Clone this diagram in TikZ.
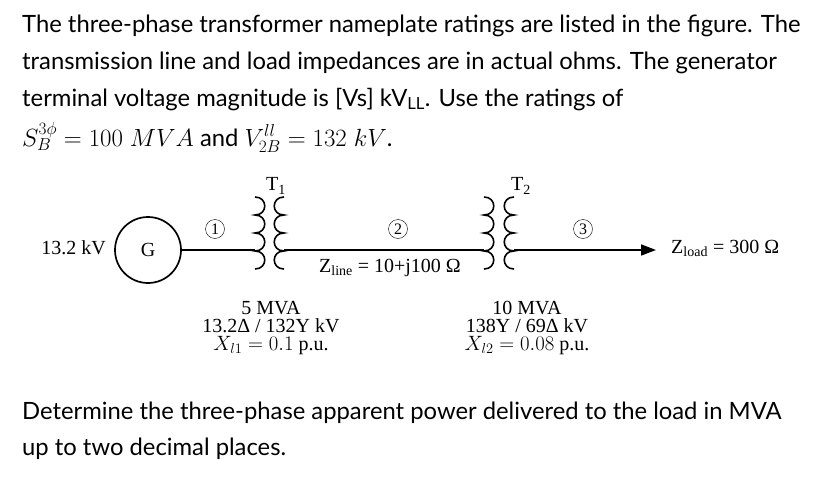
\documentclass[tikz,border=0pt]{standalone}
\usepackage{fontspec}
\setmainfont{Lato}
\newfontfamily\tms{Liberation Serif}
\usetikzlibrary{arrows.meta}
\begin{document}
\begin{tikzpicture}[x=1pt,y=-1pt,
  para/.style={anchor=base west,inner sep=0,font=\fontsize{23.8}{28}\selectfont},
  dia/.style={inner sep=0,font=\tms\fontsize{20}{22}\selectfont},
  num/.style={circle,draw,thin,inner sep=0,minimum size=19pt,font=\tms\fontsize{16}{17}\selectfont},
  wire/.style={line width=1.7pt}]
\useasboundingbox (0,0) rectangle (828,479);
\node[para] (p1) at (22,32) {The three-phase transformer nameplate ratings are listed in the figure. The};
\node[para] (p2) at (22,69) {transmission line and load impedances are in actual ohms. The generator};
\node[para] (p3) at (22,106) {terminal voltage magnitude is [Vs] kV\textsubscript{LL}. Use the ratings of};
\node[para] (p4) at (22,146) {$S_B^{3\phi}=100\;MVA$ and $V_{2B}^{ll}=132\;kV$.};
\node[para] (p5) at (22,419) {Determine the three-phase apparent power delivered to the load in MVA};
\node[para] (p6) at (22,455) {up to two decimal places.};
% generator
\node[circle,draw,line width=1.7pt,minimum size=66pt,dia] (G) at (148,250) {G};
\node[dia,anchor=east] (vg) at (106,248) {13.2 kV};
% coils
\foreach \cx/\d/\nm in {255/1/a,284/-1/b,484/1/c,514/-1/d}{
  \draw[line width=1.6pt] (\cx,197)
    \foreach \k in {0,1,2,3}{ .. controls +(13*\d,0) and +(13*\d,0) .. ++(0,18) };
  \coordinate (\nm) at (\cx,250);
}
\draw[wire] (G) -- (a);
\draw[wire] (b) -- (c);
\coordinate (tip) at (656,250);
\draw[wire,-{Triangle[length=15pt,width=11pt]}] (d) -- (tip);
\node[dia] (t1) at (276,186) {T\textsubscript{1}};
\node[dia] (t2) at (521,186) {T\textsubscript{2}};
\node[num] (n1) at (215,229) {1};
\node[num] (n2) at (398,229) {2};
\node[num] (n3) at (583,229) {3};
\node[dia] (zl) at (390,268) {Z\textsubscript{line} = 10+j100 Ω};
\node[dia,anchor=west] (zload) at (671,248) {Z\textsubscript{load} = 300 Ω};
\node[dia,align=center] (r1) at (271,328) {5 MVA\\[-4pt]13.2Δ / 132Y kV\\[-4pt]$X_{l1}=0.1$ p.u.};
\node[dia,align=center] (r2) at (527,328) {10 MVA\\[-4pt]138Y / 69Δ kV\\[-4pt]$X_{l2}=0.08$ p.u.};
\end{tikzpicture}
\end{document}
